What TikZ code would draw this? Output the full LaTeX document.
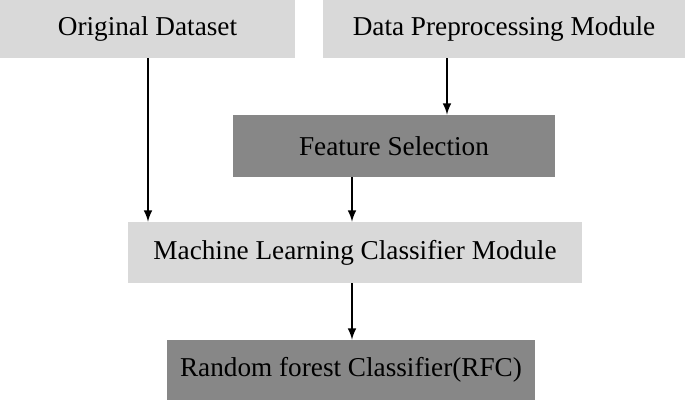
\documentclass[tikz,border=0pt]{standalone}
\usepackage{fontspec}
\setmainfont{Liberation Serif}
\usetikzlibrary{positioning}
\definecolor{lightbox}{HTML}{D9D9D9}
\definecolor{darkbox}{HTML}{878787}
\begin{document}
\begin{tikzpicture}[x=0.02cm,y=-0.02cm,
    box/.style={fill=lightbox, inner sep=0pt, font=\fontsize{15.5}{18}\selectfont},
    dbox/.style={box, fill=darkbox},
    arr/.style={-latex, line width=1.2pt}]
    \useasboundingbox (0,0) rectangle (685,403);

    \node[box, minimum width=5.9cm, minimum height=1.16cm] (orig) at (147.5,29) {Original Dataset};
    \node[box, minimum width=7.24cm, minimum height=1.16cm] (prep) at (504,29) {Data Preprocessing Module};
    \node[dbox, minimum width=6.44cm, minimum height=1.24cm] (feat) at (394,146) {Feature Selection};
    \node[box, minimum width=9.08cm, minimum height=1.22cm] (mlc) at (355,252.5) {Machine Learning Classifier Module};
    \node[dbox, minimum width=7.36cm, minimum height=1.2cm] (rfc) at (351,370) {Random forest Classifier(RFC)};

    \draw[arr] (orig.south -| 148,0) -- (mlc.north -| 148,0);
    \draw[arr] (prep.south -| 447,0) -- (feat.north -| 447,0);
    \draw[arr] (feat.south -| 352,0) -- (mlc.north -| 352,0);
    \draw[arr] (mlc.south -| 352,0) -- (rfc.north -| 352,0);
\end{tikzpicture}
\end{document}
